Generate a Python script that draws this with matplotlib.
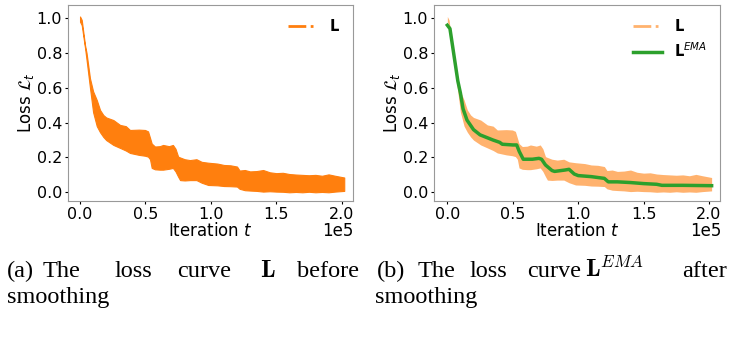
import numpy as np
import matplotlib
matplotlib.use("Agg")
import matplotlib.pyplot as plt
from matplotlib.lines import Line2D

# ---- data (iterations in units of 1e5) ----
band_x = [0.0, 0.013, 0.038, 0.05, 0.076, 0.10, 0.128, 0.153, 0.178, 0.20, 0.255, 0.306, 0.35,
          0.382, 0.45, 0.497, 0.52, 0.535, 0.548, 0.573, 0.61, 0.635, 0.68, 0.71, 0.73, 0.75,
          0.765, 0.80, 0.84, 0.89, 0.93, 0.98, 1.05, 1.10, 1.15, 1.20, 1.22, 1.26, 1.30, 1.35,
          1.40, 1.45, 1.50, 1.55, 1.60, 1.65, 1.70, 1.75, 1.80, 1.85, 1.90, 1.95, 2.02]
band_upper = [1.01, 0.99, 0.846, 0.80, 0.655, 0.58, 0.53, 0.473, 0.444, 0.43, 0.415, 0.387, 0.38,
              0.358, 0.36, 0.358, 0.35, 0.313, 0.28, 0.263, 0.265, 0.272, 0.265, 0.272, 0.25, 0.205,
              0.20, 0.19, 0.185, 0.19, 0.175, 0.17, 0.165, 0.157, 0.155, 0.148, 0.125, 0.128, 0.12, 0.122,
              0.128, 0.115, 0.11, 0.112, 0.105, 0.102, 0.10, 0.098, 0.10, 0.095, 0.103, 0.095, 0.085]
band_lower = [0.98, 0.96, 0.83, 0.76, 0.60, 0.46, 0.38, 0.345, 0.318, 0.30, 0.272, 0.255, 0.24,
              0.226, 0.215, 0.21, 0.205, 0.19, 0.14, 0.132, 0.13, 0.13, 0.135, 0.14, 0.12, 0.09,
              0.07, 0.068, 0.07, 0.07, 0.055, 0.042, 0.04, 0.036, 0.035, 0.033, 0.02, 0.012, 0.01, 0.008,
              0.004, 0.006, 0.004, 0.003, 0.0, 0.002, 0.0, 0.003, 0.0, 0.002, 0.0, 0.004, 0.008]

ema_x = [0.0, 0.02, 0.05, 0.08, 0.10, 0.12, 0.15, 0.20, 0.25, 0.30, 0.35, 0.40, 0.42, 0.50, 0.53,
         0.55, 0.58, 0.65, 0.70, 0.72, 0.75, 0.80, 0.82, 0.90, 0.93, 0.97, 1.00, 1.10, 1.20,
         1.23, 1.30, 1.40, 1.50, 1.60, 1.64, 1.80, 2.02]
ema_y = [0.96, 0.94, 0.79, 0.64, 0.57, 0.48, 0.415, 0.36, 0.33, 0.315, 0.30, 0.287, 0.276, 0.272, 0.272,
         0.234, 0.19, 0.19, 0.195, 0.19, 0.157, 0.125, 0.12, 0.128, 0.132, 0.105, 0.096, 0.09, 0.08,
         0.06, 0.06, 0.056, 0.05, 0.046, 0.04, 0.04, 0.038]

yticks = [0.0, 0.2, 0.4, 0.6, 0.8, 1.0]
xticks = [0.0, 0.5, 1.0, 1.5, 2.0]

W, H = 743, 357
fig = plt.figure(figsize=(W / 100, H / 100), dpi=100)

def px_axes(l, t, r, b):
    return fig.add_axes([l / W, 1 - b / H, (r - l) / W, (b - t) / H])

ax1 = px_axes(68, 5, 353, 201)
ax2 = px_axes(434, 5, 720, 201)

orange = "#ff7f0e"
green = "#2ca02c"
scale = 1e5
bx = np.array(band_x) * scale
ex = np.array(ema_x) * scale

ax1.fill_between(bx, band_lower, band_upper, color=orange, lw=0.8, edgecolor=orange)
ax2.fill_between(bx, band_lower, band_upper, color=orange, alpha=0.6, lw=0)
ax2.plot(ex, ema_y, color=green, lw=2.5)

h1 = Line2D([], [], color=orange, lw=2, ls="-.")
h2 = Line2D([], [], color=orange, lw=2, ls="-.", alpha=0.6)
h3 = Line2D([], [], color=green, lw=2.5)

ax1.legend([h1], [r"$\mathbf{L}$"], loc="upper right", frameon=False, fontsize=10.5)
ax2.legend([h2, h3], [r"$\mathbf{L}$", r"$\mathbf{L}^{EMA}$"], loc="upper right",
           frameon=False, fontsize=10.5)

for ax, xl in ((ax1, (-0.092, 2.087)), (ax2, (-0.102, 2.084))):
    ax.set_xlim(xl[0] * scale, xl[1] * scale)
    ax.set_ylim(-0.05, 1.076)
    ax.set_xticks([v * scale for v in xticks])
    ax.set_yticks(yticks)
    ax.ticklabel_format(axis="x", style="sci", scilimits=(0, 0))
    ax.tick_params(labelsize=11.5, length=2.5, pad=1.8)
    ax.set_xlabel(r"Iteration $t$", fontsize=12, labelpad=-0.3)
    ax.set_ylabel(r"Loss $\mathcal{L}_t$", fontsize=12, labelpad=0.5)
    for s in ax.spines.values():
        s.set_color("#999999")

fig.canvas.draw()
for ax, right in ((ax1, 354), (ax2, 721)):
    off = ax.xaxis.get_major_formatter().get_offset()
    ax.xaxis.get_offset_text().set_visible(False)
    fig.text(right / W, 1 - 231 / H, off, fontsize=12, ha="right", va="center")

# captions
serif = "Liberation Serif"
fs = 17.5
y1 = 1 - 277 / H
y2 = 1 - 303 / H
words = [("(a)", 7), ("The", 43), ("loss", 115), ("curve", 177), (r"$\mathbf{L}$", 260),
         ("before", 297), ("(b)", 377), ("The", 418), ("loss", 470), ("curve", 527),
         (r"$\mathbf{L}^{EMA}$", 585), ("after", 682)]
for w, x in words:
    fig.text(x / W, y1, w, family=serif, fontsize=fs, ha="left", va="baseline",
             math_fontfamily="cm")
fig.text(7 / W, y2, "smoothing", family=serif, fontsize=fs, ha="left", va="baseline")
fig.text(375 / W, y2, "smoothing", family=serif, fontsize=fs, ha="left", va="baseline")

fig.savefig("out.png", dpi=100)
